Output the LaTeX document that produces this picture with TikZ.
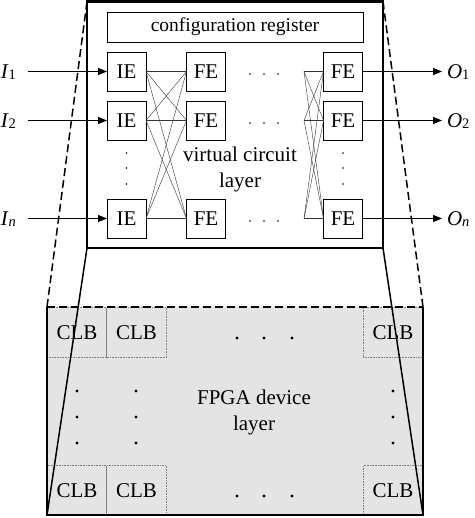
\documentclass[tikz,border=0pt]{standalone}
\usepackage{fontspec}
\setmainfont{Liberation Serif}
\usepackage{xcolor}
\usetikzlibrary{arrows.meta, positioning}

\definecolor{fpgagray}{HTML}{E4E4E4}
\newcommand{\sublab}[2]{\textit{#1}\raisebox{-1.5pt}{\fontsize{14.5}{14.5}\selectfont #2}}

\begin{document}
\begin{tikzpicture}[x=1pt, y=-1pt, >={Triangle[length=9pt,width=7pt]},
  every node/.style={font=\fontsize{21}{26}\selectfont, inner sep=0pt, outer sep=0pt},
  elem/.style={draw, line width=0.9pt, minimum width=39pt, minimum height=39pt},
  clb/.style={draw=gray, densely dotted, line width=0.6pt, minimum width=59.5pt, minimum height=50pt},
  wire/.style={line width=0.4pt, black!80},
  link/.style={line width=0.8pt}]

\useasboundingbox (0,0) rectangle (474,518);

% FPGA device layer
\node[fill=fpgagray, minimum width=376pt, minimum height=208pt] (fpga) at (235,411) {};
\node[clb] (c11) at (77,332.5) {CLB};
\node[clb] (c12) at (136.5,332.5) {CLB};
\node[clb] (c1m) at (393,332.5) {CLB};
\node[clb] (cn1) at (77,490.5) {CLB};
\node[clb] (cn2) at (136.5,490.5) {CLB};
\node[clb] (cnm) at (393,490.5) {CLB};
\node[align=center] (fpgatxt) at (254,412) {FPGA device\\layer};
\foreach \x in {237,264,292} {
  \fill (\x,338) circle (1.6pt);
  \fill (\x,496) circle (1.6pt);
}
\foreach \y in {391,417,443} {
  \fill (77,\y) circle (1.6pt);
  \fill (136,\y) circle (1.6pt);
  \fill (393,\y) circle (1.6pt);
}
\draw[line width=2.6pt] (fpga.north west) -- (fpga.south west) -- (fpga.south east) -- (fpga.north east);
\draw[line width=2.6pt, dash pattern=on 8pt off 4pt] (fpga.north west) -- (fpga.north east);

% virtual circuit layer
\node[draw, fill=white, line width=2.6pt, minimum width=296pt, minimum height=246.5pt] (vcl) at (235,124.8) {};

% projection
\draw[line width=1.5pt, dash pattern=on 8pt off 4pt] (vcl.north west) -- (fpga.north west);
\draw[line width=1.5pt, dash pattern=on 8pt off 4pt] (vcl.north east) -- (fpga.north east);
\draw[line width=1.5pt] (vcl.south west) -- (fpga.south west);
\draw[line width=1.5pt] (vcl.south east) -- (fpga.south east);

\node[draw, line width=0.9pt, minimum width=256pt, minimum height=30pt,
  font=\fontsize{19.5}{24}\selectfont] (reg) at (235,27) {configuration register};

\node[elem] (ie1) at (126.5,71.5) {IE};
\node[elem] (ie2) at (126.5,120.5) {IE};
\node[elem] (ien) at (126.5,218.5) {IE};
\node[elem] (fa1) at (206,71.5) {FE};
\node[elem] (fa2) at (206,120.5) {FE};
\node[elem] (fan) at (206,218.5) {FE};
\node[elem] (fb1) at (343,71.5) {FE};
\node[elem] (fb2) at (343,120.5) {FE};
\node[elem] (fbn) at (343,218.5) {FE};
\node[align=center] (vcltxt) at (240,169) {virtual circuit\\layer};

\coordinate (s1) at (304,71.5);
\coordinate (s2) at (304,120.5);
\coordinate (sn) at (304,218.5);

% crossbars
\foreach \a in {1,2,n} {
  \foreach \b in {1,2,n} {
    \draw[wire] (ie\a.east) -- (fa\b.west);
    \draw[wire] (s\a) -- (fb\b.west);
  }
}

% dots
\foreach \y in {74,123,221} {
  \foreach \x in {250,264,278} \fill (\x,\y) circle (0.9pt);
}
\foreach \y in {153,168,184} {
  \fill (126.5,\y) circle (0.9pt);
  \fill (343,\y) circle (0.9pt);
}

% inputs and outputs
\node[anchor=east] (i1) at (16,72) {\sublab{I}{1}};
\node[anchor=east] (i2) at (16,121) {\sublab{I}{2}};
\node[anchor=east] (in) at (16,219) {\sublab{I}{\textit{n}}};
\node[anchor=west] (o1) at (447,72) {\sublab{O}{1}};
\node[anchor=west] (o2) at (447,121) {\sublab{O}{2}};
\node[anchor=west] (on) at (447,219) {\sublab{O}{\textit{n}}};

\draw[->, link, shorten <=12pt] (i1.east |- ie1) -- (ie1.west);
\draw[->, link, shorten <=12pt] (i2.east |- ie2) -- (ie2.west);
\draw[->, link, shorten <=12pt] (in.east |- ien) -- (ien.west);
\draw[->, link, shorten >=5pt] (fb1.east) -- (o1.west |- fb1);
\draw[->, link, shorten >=5pt] (fb2.east) -- (o2.west |- fb2);
\draw[->, link, shorten >=5pt] (fbn.east) -- (on.west |- fbn);

\end{tikzpicture}
\end{document}
